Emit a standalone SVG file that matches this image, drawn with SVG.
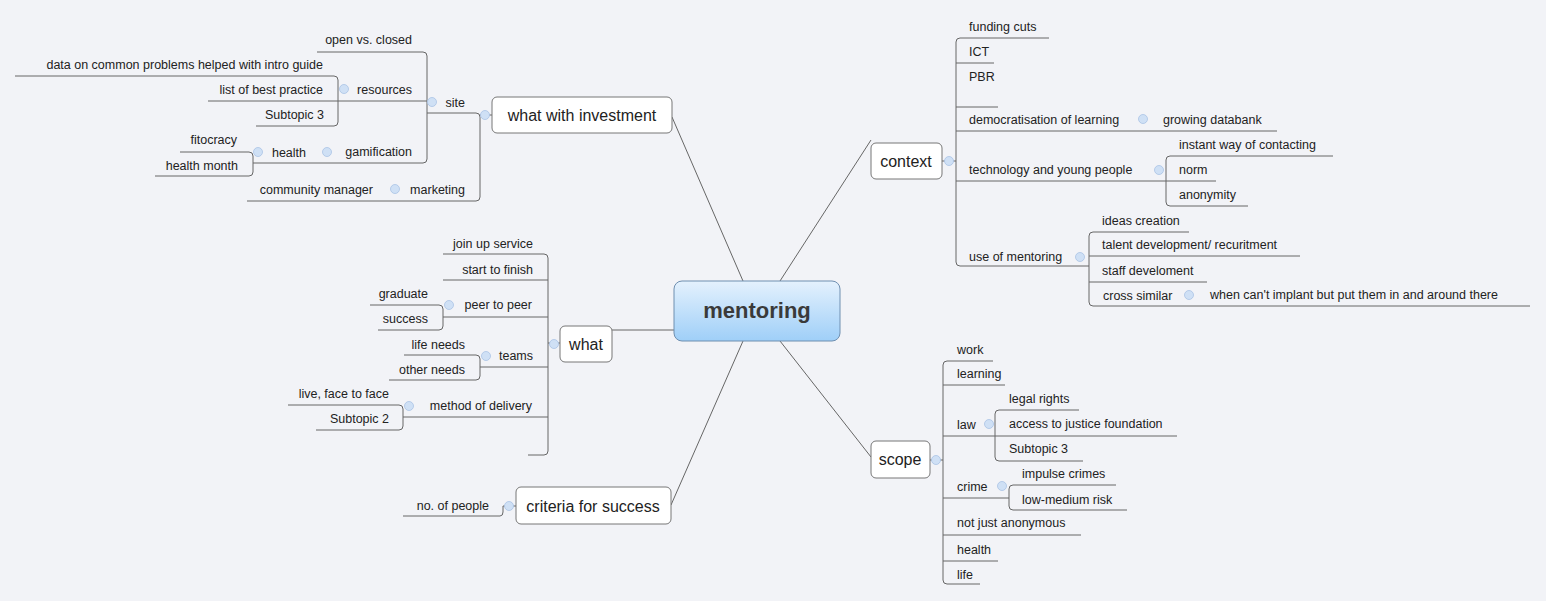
<svg xmlns="http://www.w3.org/2000/svg" width="1546" height="601" viewBox="0 0 1546 601">
<defs>
<linearGradient id="g" x1="0" y1="0" x2="0" y2="1"><stop offset="0" stop-color="#e4f1fd"/><stop offset="1" stop-color="#9fcff8"/></linearGradient>
<style>
text{font-family:"Liberation Sans",Arial,sans-serif;font-size:12.5px;fill:#222}
.b{font-size:16px}
.c{font-size:22px;font-weight:bold;fill:#3a3a3a}
.box{fill:#fff;stroke:#777;stroke-width:1}
.l{fill:none;stroke:#666;stroke-width:1}
.m{fill:#cfe0f5;stroke:#a9c3e4;stroke-width:0.8}
</style>
</defs>
<rect width="1546" height="601" fill="#f2f3f7"/>
<g id="connectors" class="l">
<path d="M672,117 L743,281 M612,330 L674,330 M671,505 L743,341 M871,140 L780,281 M871,457 L780,341"/>
<!-- what with investment -->
<path d="M427,113 H476 Q480,113 480,117 V197 Q480,201 476,201 H247 M480,115 H492"/>
<path d="M317,52 H423 Q427,52 427,56 V159 Q427,163 423,163 H253"/>
<path d="M15,76 H334 Q338,76 338,80 V122 Q338,126 334,126 H256 M208,101 H427"/>
<path d="M180,152 H249 Q253,152 253,156 V172 Q253,176 249,176 H155"/>
<!-- what -->
<path d="M443,254 H544 Q548,254 548,258 V451 Q548,455 544,455 H528 M443,280 H548 M443,317 H548 M480,367 H548 M403,417 H548 M548,343 H560"/>
<path d="M370,305 H439 Q443,305 443,309 V326 Q443,330 439,330 H378"/>
<path d="M404,355 H476 Q480,355 480,359 V376 Q480,380 476,380 H389"/>
<path d="M288,405 H399 Q403,405 403,409 V426 Q403,430 399,430 H316"/>
<path d="M403,516 H500 Q503,516 503,512 V506 H516"/>
<!-- context -->
<path d="M1049,38 H960 Q956,38 956,42 V262 Q956,266 960,266 H1089 M956,63 H994 M956,107 H998 M956,131 H1277 M956,181 H1166 M942,161 H956"/>
<path d="M1333,156 H1170 Q1166,156 1166,160 V202 Q1166,206 1170,206 H1248 M1166,181 H1216"/>
<path d="M1189,232 H1093 Q1089,232 1089,236 V302 Q1089,306 1093,306 H1530 M1089,256 H1300 M1089,282 H1207"/>
<!-- scope -->
<path d="M993,361 H947 Q943,361 943,365 V580 Q943,584 947,584 H980 M943,385 H1005 M943,436 H995 M943,498 H1009 M943,535 H1081 M943,561 H998 M930,460 H943"/>
<path d="M1079,410 H999 Q995,410 995,414 V457 Q995,461 999,461 H1083 M995,436 H1177"/>
<path d="M1116,485 H1013 Q1009,485 1009,489 V506 Q1009,510 1013,510 H1127"/>
</g>
<g id="mentoring"><rect x="674" y="281" width="166" height="60" rx="8" fill="url(#g)" stroke="#6f8fb0"/><text class="c" x="757" y="318" text-anchor="middle">mentoring</text></g>
<g id="what-with-investment"><rect class="box" x="492" y="97" width="180" height="36" rx="5"/><text class="b" x="582" y="121" text-anchor="middle">what with investment</text><circle class="m" cx="485" cy="115" r="4.5"/></g>
<g id="what"><rect class="box" x="560" y="326" width="52" height="36" rx="5"/><text class="b" x="586" y="350" text-anchor="middle">what</text><circle class="m" cx="554" cy="344" r="4.5"/></g>
<g id="criteria"><rect class="box" x="516" y="487" width="155" height="37" rx="5"/><text class="b" x="593" y="512" text-anchor="middle">criteria for success</text><circle class="m" cx="509" cy="506" r="4.5"/></g>
<g id="context"><rect class="box" x="871" y="143" width="71" height="36" rx="5"/><text class="b" x="906" y="167" text-anchor="middle">context</text><circle class="m" cx="949" cy="161" r="4.5"/></g>
<g id="scope"><rect class="box" x="871" y="441" width="59" height="37" rx="5"/><text class="b" x="900" y="465" text-anchor="middle">scope</text><circle class="m" cx="936" cy="460" r="4.5"/></g>
<g id="left-topics" text-anchor="end">
<text x="412" y="44">open vs. closed</text>
<text x="323" y="69">data on common problems helped with intro guide</text>
<text x="323" y="94">list of best practice</text><circle class="m" cx="344" cy="89" r="4.5"/>
<text x="412" y="94">resources</text>
<text x="324" y="119">Subtopic 3</text>
<text x="465" y="107">site</text><circle class="m" cx="432" cy="102" r="4.5"/>
<text x="237" y="144">fitocracy</text>
<text x="306" y="157">health</text><circle class="m" cx="258" cy="152" r="4.5"/>
<text x="412" y="156">gamification</text><circle class="m" cx="327" cy="152" r="4.5"/>
<text x="238" y="170">health month</text>
<text x="373" y="194">community manager</text>
<text x="465" y="194">marketing</text><circle class="m" cx="395" cy="189" r="4.5"/>
<text x="533" y="248">join up service</text>
<text x="533" y="274">start to finish</text>
<text x="428" y="298">graduate</text>
<text x="532" y="309">peer to peer</text><circle class="m" cx="449" cy="305" r="4.5"/>
<text x="428" y="323">success</text>
<text x="465" y="349">life needs</text>
<text x="533" y="360">teams</text><circle class="m" cx="486" cy="356" r="4.5"/>
<text x="465" y="374">other needs</text>
<text x="389" y="398">live, face to face</text>
<text x="532" y="410">method of delivery</text><circle class="m" cx="409" cy="406" r="4.5"/>
<text x="389" y="423">Subtopic 2</text>
<text x="489" y="510">no. of people</text>
</g>
<g id="right-topics">
<text x="969" y="31">funding cuts</text>
<text x="969" y="56">ICT</text>
<text x="969" y="81">PBR</text>
<text x="969" y="124">democratisation of learning</text><circle class="m" cx="1143" cy="119" r="4.5"/>
<text x="1163" y="124">growing databank</text>
<text x="969" y="174">technology and young people</text><circle class="m" cx="1159" cy="170" r="4.5"/>
<text x="1179" y="149">instant way of contacting</text>
<text x="1179" y="174">norm</text>
<text x="1179" y="199">anonymity</text>
<text x="969" y="261">use of mentoring</text><circle class="m" cx="1080" cy="257" r="4.5"/>
<text x="1102" y="225">ideas creation</text>
<text x="1102" y="249">talent development/ recuritment</text>
<text x="1102" y="275">staff develoment</text>
<text x="1103" y="300">cross similar</text><circle class="m" cx="1189" cy="295" r="4.5"/>
<text x="1210" y="299">when can't implant but put them in and around there</text>
<text x="957" y="354">work</text>
<text x="957" y="378">learning</text>
<text x="957" y="429">law</text><circle class="m" cx="989" cy="424" r="4.5"/>
<text x="1009" y="403">legal rights</text>
<text x="1009" y="428">access to justice foundation</text>
<text x="1009" y="453">Subtopic 3</text>
<text x="957" y="491">crime</text><circle class="m" cx="1002" cy="486" r="4.5"/>
<text x="1022" y="478">impulse crimes</text>
<text x="1022" y="504">low-medium risk</text>
<text x="957" y="527">not just anonymous</text>
<text x="957" y="554">health</text>
<text x="957" y="579">life</text>
</g>
</svg>
